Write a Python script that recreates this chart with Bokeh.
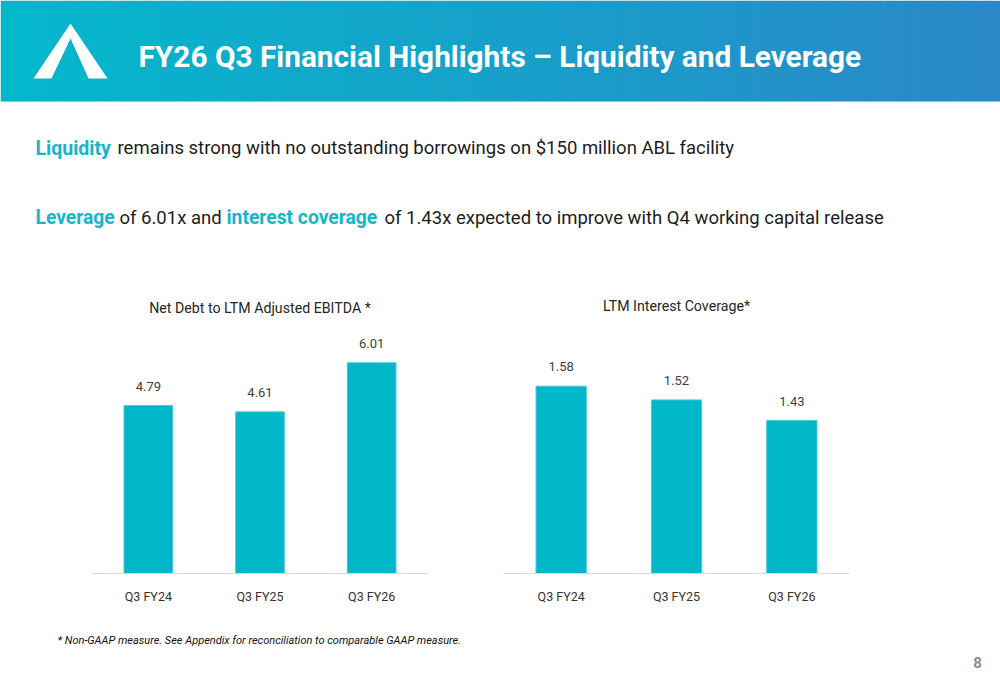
from bokeh.plotting import figure
from bokeh.models import Range1d, FactorRange, Title, ColumnDataSource
from bokeh.layouts import column, row
from bokeh.core.properties import value
from bokeh.embed import file_html
from bokeh.resources import INLINE

# ---------------- data ----------------
page_title = "FY26 Q3 Financial Highlights \u2013 Liquidity and Leverage"
line1_bold = "Liquidity"
line1_rest = "remains strong with no outstanding borrowings on $150 million ABL facility"
line2_parts = ["Leverage", "of 6.01x and", "interest coverage",
               "of 1.43x expected to improve with Q4 working capital release"]
line2_bold = [True, False, True, False]

categories = ["Q3 FY24", "Q3 FY25", "Q3 FY26"]
leverage = [4.79, 4.61, 6.01]
coverage = [1.58, 1.52, 1.43]
leverage_title = "Net Debt to LTM Adjusted EBITDA *"
coverage_title = "LTM Interest Coverage*"
footnote = "* Non-GAAP measure. See Appendix for reconciliation to comparable GAAP measure."
page_number = "8"

# ---------------- styles ----------------
FONT = "Roboto"
TEAL = "#16b6ca"
DARK = "#1c1c1c"
BAR = "#00b7ca"
BAR_EDGE = "#4cc9d6"
HEAD_L = (4, 184, 204)
HEAD_R = (42, 136, 200)
SHIFT = 0.41  # baseline correction, fraction of font size


def blank(w, h, ytop):
    p = figure(width=w, height=h, x_range=Range1d(0, w), y_range=Range1d(ytop, 0),
               output_backend="svg", toolbar_location=None,
               min_border=0, outline_line_color=None)
    p.axis.visible = False
    p.grid.visible = False
    p.background_fill_color = "white"
    return p


def put(fig, x, base, txt, size, **kw):
    fig.text(x=[x], y=[base - SHIFT * size], text=[txt], text_font=value(FONT),
             text_font_size="%gpx" % size, text_baseline="alphabetic", **kw)


# ---------------- top panel ----------------
TOP_H = 270
top = blank(1000, TOP_H, TOP_H)

n = 200
xs = [1000 * i / n for i in range(n + 1)]
cols = []
for i in range(n):
    t = (i + 0.5) / n
    c = tuple(int(round(HEAD_L[k] + (HEAD_R[k] - HEAD_L[k]) * t)) for k in range(3))
    cols.append("#%02x%02x%02x" % c)
top.quad(left=xs[:-1], right=[x + 0.6 for x in xs[1:]], top=0, bottom=101,
         fill_color=cols, line_color=None)

# logo (white chevron)
top.patch(x=[33, 70, 107, 88, 70, 51], y=[78, 23, 78, 78, 38, 78],
          fill_color="white", line_color=None)

put(top, 138, 68, page_title, 29.8, text_font_style="bold", text_color="white")

put(top, 35, 155.5, line1_bold, 19.5, text_font_style="bold", text_color=TEAL)
put(top, 117, 155.5, line1_rest, 18.5, text_color=DARK)

l2x = [35, 119, 226, 384]
for xx, part, b in zip(l2x, line2_parts, line2_bold):
    if b:
        put(top, xx, 225, part, 19.3, text_font_style="bold", text_color=TEAL)
    else:
        put(top, xx, 225, part, 18.5, text_color=DARK)


# ---------------- charts ----------------
def bar_chart(vals, title, w, h, left, right, top_b, bottom_b, ystart, yend, standoff):
    p = figure(width=w, height=h, x_range=FactorRange(*categories, range_padding=0),
               y_range=Range1d(ystart, yend), output_backend="svg",
               toolbar_location=None, min_border_left=left, min_border_right=right,
               min_border_top=top_b, min_border_bottom=bottom_b,
               outline_line_color=None)
    p.title = Title(text=title, align="center", text_font=FONT,
                    text_font_size="14.2px", text_font_style="normal",
                    text_color="#262626", standoff=standoff)
    src = ColumnDataSource(dict(cat=categories, val=vals,
                                lab=["%.2f" % v for v in vals]))
    p.vbar(x="cat", top="val", width=0.436, source=src,
           fill_color=BAR, line_color=BAR_EDGE, line_width=1)
    p.text(x="cat", y="val", text="lab", source=src, y_offset=-14 - SHIFT * 13,
           text_align="center", text_baseline="alphabetic",
           text_font=value(FONT), text_font_size="13px", text_color="#404040")
    p.yaxis.visible = False
    p.grid.visible = False
    ax = p.xaxis[0]
    ax.axis_line_color = "#d9d9d9"
    ax.axis_line_width = 1
    ax.major_tick_line_color = None
    ax.minor_tick_line_color = None
    ax.major_label_text_font = FONT
    ax.major_label_text_font_size = "12.5px"
    ax.major_label_text_color = "#333333"
    ax.major_label_standoff = 9
    return p


CH_H = 355
# charts span page y 270..625; frames start at y=330
# left chart: frame x 92..427, frame bottom at y=577
left_chart = bar_chart(leverage, leverage_title, 500, CH_H, 92, 73, 60, 48,
                       0, 247 / 35.64, 29)
# right chart: frame x 503..849, frame bottom at y=573
right_chart = bar_chart(coverage, coverage_title, 500, CH_H, 3, 151, 60, 52,
                        0.761, 0.761 + 243 / 228.7, 33.5)

# ---------------- bottom panel ----------------
bot = blank(1000, 60, 60)
put(bot, 57, 20, footnote, 11, text_font_style="italic", text_color="#111111")
put(bot, 977, 43, page_number, 15, text_font_style="bold", text_color="#8c8c8c",
    text_align="center")

layout = column(top, row(left_chart, right_chart, spacing=0), bot, spacing=0)
p = layout
open("out.html", "w").write(file_html(p, INLINE))
